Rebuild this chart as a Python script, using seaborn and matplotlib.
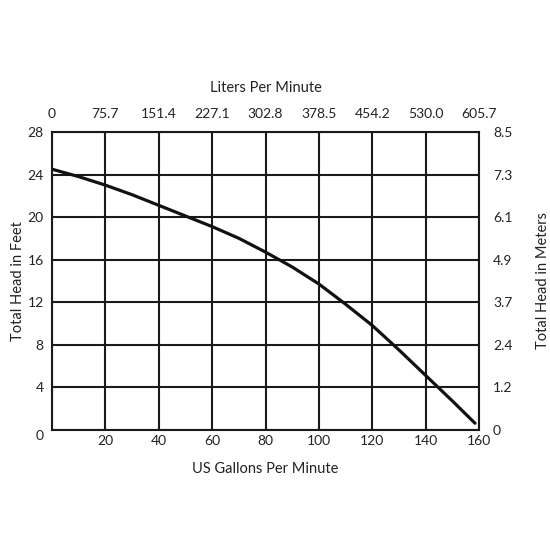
import matplotlib
matplotlib.use("Agg")
import matplotlib.pyplot as plt
import seaborn as sns
import pandas as pd

# Data
gpm = [0, 10, 20, 30, 40, 50, 60, 70, 80, 90, 100, 110, 120, 130, 140, 150, 158.5]
head_ft = [24.5, 23.8, 23.0, 22.1, 21.1, 20.1, 19.1, 18.0, 16.7, 15.3, 13.7, 11.8, 9.8, 7.5, 5.1, 2.7, 0.6]

x_ticks = [0, 20, 40, 60, 80, 100, 120, 140, 160]
x_labels = ["", "20", "40", "60", "80", "100", "120", "140", "160"]
lpm_labels = ["0", "75.7", "151.4", "227.1", "302.8", "378.5", "454.2", "530.0", "605.7"]
y_ticks = [0, 4, 8, 12, 16, 20, 24, 28]
y_labels = ["", "4", "8", "12", "16", "20", "24", "28"]
m_labels = ["0", "1.2", "2.4", "3.7", "4.9", "6.1", "7.3", "8.5"]

sns.set_style("white")
plt.rcParams["font.family"] = ["Lato", "DejaVu Sans"]

df = pd.DataFrame({"gpm": gpm, "ft": head_ft})

fig = plt.figure(figsize=(5.5, 5.5), dpi=100)
ax = fig.add_axes([52 / 550, 1 - 429.6 / 550, (479 - 52) / 550, (429.6 - 132) / 550])

lc = "#1a1a1a"
sns.lineplot(data=df, x="gpm", y="ft", ax=ax, color="#111111", linewidth=2.3)

ax.set_xlim(0, 160)
ax.set_ylim(0, 28)
ax.set_xticks(x_ticks)
ax.set_xticklabels(x_labels)
ax.set_yticks(y_ticks)
ax.set_yticklabels(y_labels)
ax.grid(True, color=lc, linewidth=1.5)
ax.set_axisbelow(True)
for s in ax.spines.values():
    s.set_visible(True)
    s.set_color(lc)
    s.set_linewidth(1.5)
ax.tick_params(axis="x", length=0, pad=4, labelsize=10, colors="#222222")
ax.tick_params(axis="y", length=0, pad=6, labelsize=10, colors="#222222")
ax.set_xlabel("US Gallons Per Minute", fontsize=10.5, labelpad=11, color="#222222")
ax.set_ylabel("Total Head in Feet", fontsize=10.5, labelpad=2, color="#222222")

axr = ax.twinx()
axr.set_ylim(0, 28)
axr.set_yticks(y_ticks)
axr.set_yticklabels(m_labels)
axr.tick_params(axis="y", length=0, pad=10, labelsize=10, colors="#222222")
axr.set_ylabel("Total Head in Meters", fontsize=10.5, labelpad=17, color="#222222")
for s in axr.spines.values():
    s.set_visible(False)

axt = ax.twiny()
axt.set_xlim(0, 160)
axt.set_xticks(x_ticks)
axt.set_xticklabels(lpm_labels)
axt.tick_params(axis="x", length=0, pad=9, labelsize=10, colors="#222222")
axt.set_xlabel("Liters Per Minute", fontsize=10.5, labelpad=11, color="#222222")
for s in axt.spines.values():
    s.set_visible(False)

fig.text(40 / 550, 1 - 436 / 550, "0", ha="center", va="center", fontsize=10, color="#222222")

fig.savefig("out.png", dpi=100)
